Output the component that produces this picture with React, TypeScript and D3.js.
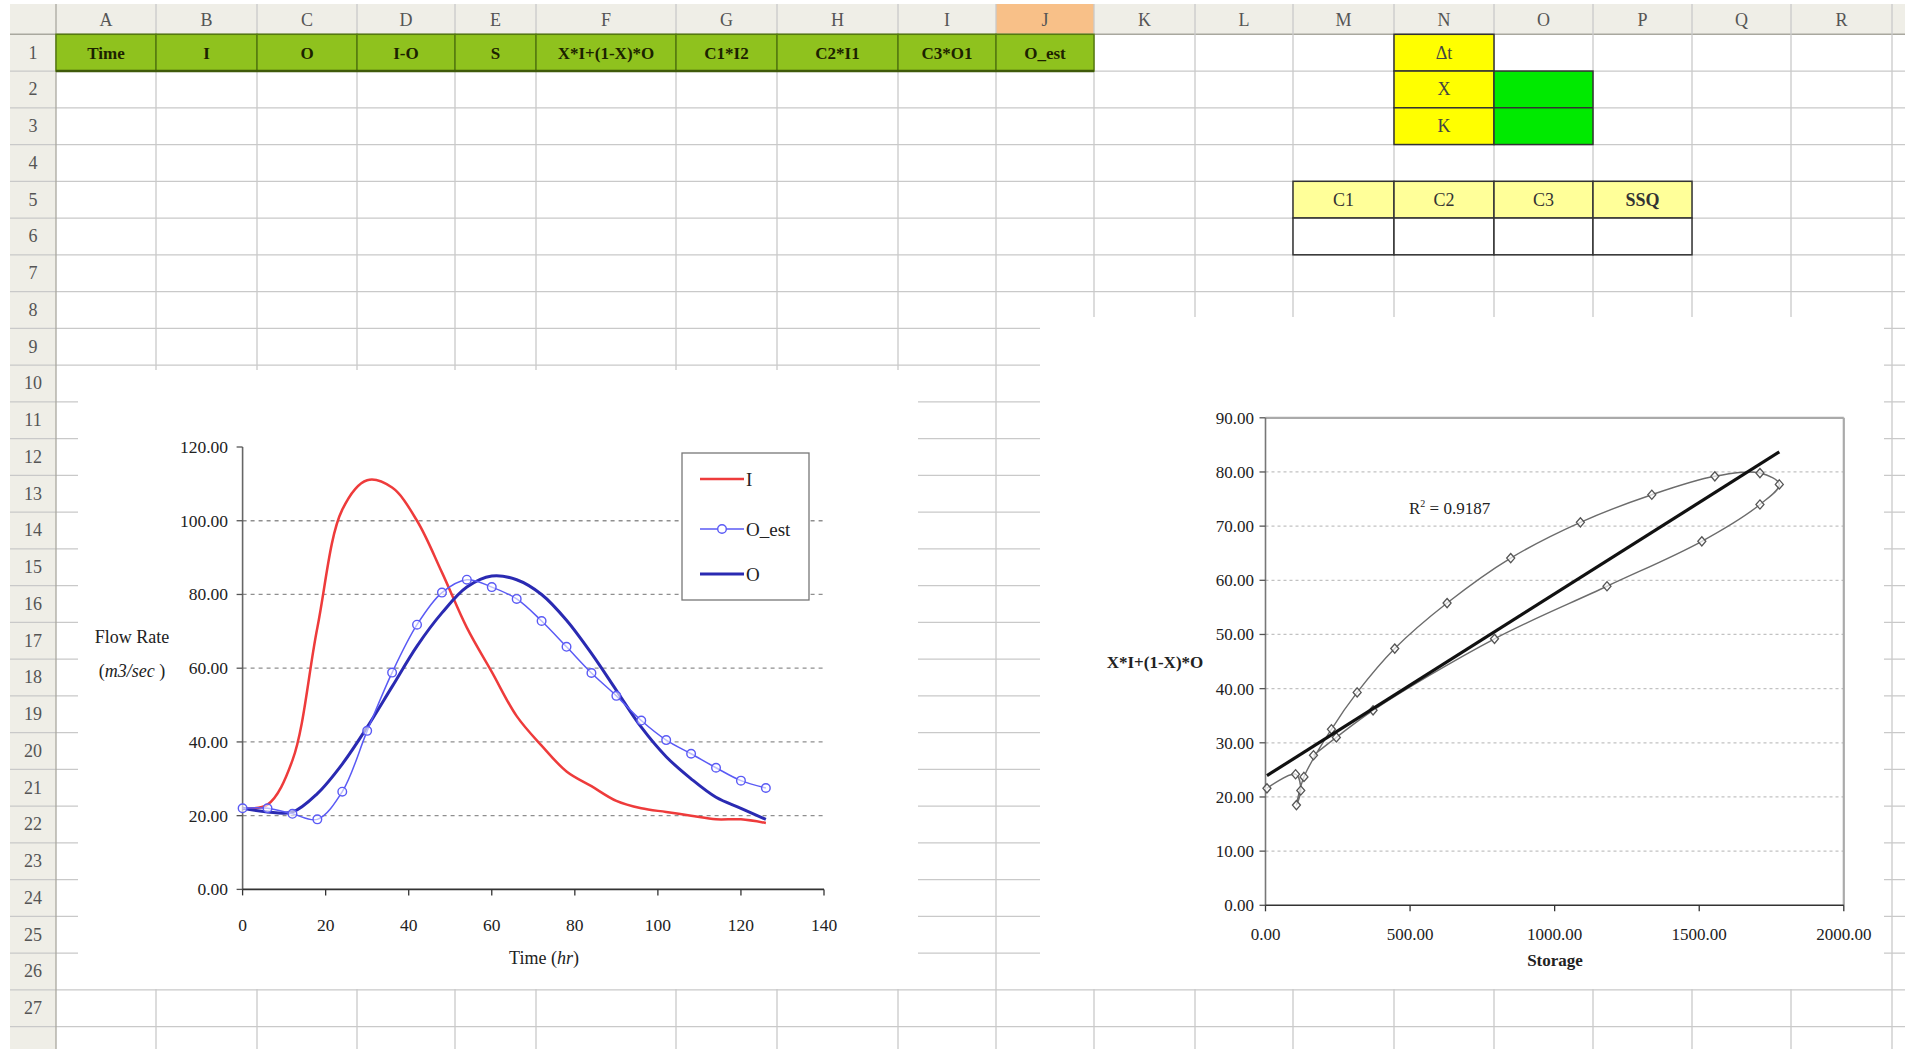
import React from 'react';
import * as d3 from 'd3';

const W = 1921;
const H = 1049;

// sheet layout
const colLetters = ['A', 'B', 'C', 'D', 'E', 'F', 'G', 'H', 'I', 'J', 'K', 'L', 'M', 'N', 'O', 'P', 'Q', 'R'];
const colEdges = [56, 156, 257, 357, 455, 536, 676, 777, 898, 996, 1094, 1195, 1293, 1394, 1494, 1593, 1692, 1791, 1892];
const ROW_TOP = 34.3;
const ROW_H = 36.75;
const N_ROWS = 28;
const N_LABELLED = 27;
const headerCells = ['Time', 'I', 'O', 'I-O', 'S', 'X*I+(1-X)*O', 'C1*I2', 'C2*I1', 'C3*O1', 'O_est'];
const paramCells = ['Δt', 'X', 'K'];
const coefCells = ['C1', 'C2', 'C3', 'SSQ'];

// hydrographs (left chart)
const timeHr = [0, 6, 12, 18, 24, 30, 36, 42, 48, 54, 60, 66, 72, 78, 84, 90, 96, 102, 108, 114, 120, 126];
const inflow = [22, 23, 35, 71, 103, 111, 109, 100, 86, 71, 59, 47, 39, 32, 28, 24, 22, 21, 20, 19, 19, 18];
const outflow = [22, 21, 21, 26, 34, 44, 55, 66, 75, 82, 85, 84, 80, 73, 64, 54, 44, 36, 30, 25, 22, 19];
const outflowEst = [22, 22, 20.5, 19, 26.5, 43, 58.8, 71.8, 80.5, 84, 82, 78.8, 72.8, 65.8, 58.7, 52.5, 45.8, 40.5, 36.8, 33, 29.5, 27.5];
const flowTicksX = [0, 20, 40, 60, 80, 100, 120, 140];
const flowTicksY = [0, 20, 40, 60, 80, 100, 120];

// storage relation (right chart)
const storage = [5, 104, 122, 107, 133, 228, 317, 447, 628, 848, 1089, 1336, 1554, 1710, 1777, 1710, 1509, 1181, 792, 372, 245, 166];
const weightedFlow = [21.6, 24.2, 21.2, 18.5, 23.7, 32.5, 39.3, 47.4, 55.8, 64.1, 70.7, 75.8, 79.2, 79.8, 77.7, 74, 67.2, 58.9, 49.2, 36, 31, 27.7];
const storTicksX = [0, 500, 1000, 1500, 2000];
const storTicksY = [0, 10, 20, 30, 40, 50, 60, 70, 80, 90];
const r2Value = '0.9187';

const f2 = d3.format('.2f');
const FONT = "'Liberation Serif', 'Times New Roman', serif";

function rowY(r: number) {
  // top edge of row r (1-based)
  return ROW_TOP + (r - 1) * ROW_H;
}

function Sheet() {
  const rows = d3.range(1, N_ROWS + 1);
  const gridColor = '#c9c9c9';
  return (
    <g>
      <rect x={0} y={0} width={W} height={H} fill="#fff" />
      {/* header row and row header column */}
      <rect x={10} y={4} width={1895} height={ROW_TOP - 4} fill="#efeee7" />
      <rect x={colEdges[9]} y={4} width={colEdges[10] - colEdges[9]} height={ROW_TOP - 4} fill="#f8c088" />
      <rect x={10} y={ROW_TOP} width={46} height={H - ROW_TOP} fill="#efeee7" />
      {/* grid */}
      {rows.map(r => (
        <line key={'h' + r} x1={10} x2={1905} y1={rowY(r + 1)} y2={rowY(r + 1)} stroke={gridColor} strokeWidth={1.3} />
      ))}
      <line x1={10} x2={1905} y1={ROW_TOP} y2={ROW_TOP} stroke="#a9a89f" strokeWidth={1.5} />
      {colEdges.map((x, i) => (
        <line key={'v' + i} x1={x} x2={x} y1={4} y2={H} stroke={i === 0 ? '#a9a89f' : gridColor} strokeWidth={1.3} />
      ))}
      {colLetters.map((c, i) => (
        <text key={c} x={(colEdges[i] + colEdges[i + 1]) / 2} y={26} textAnchor="middle" fontSize={18} fill="#555">{c}</text>
      ))}
      {rows.filter(r => r <= N_LABELLED).map(r => (
        <text key={'n' + r} x={33} y={rowY(r) + ROW_H / 2 + 6} textAnchor="middle" fontSize={18} fill="#555">{r}</text>
      ))}
      {/* row 1 headers */}
      {headerCells.map((t, i) => (
        <g key={t}>
          <rect x={colEdges[i]} y={rowY(1)} width={colEdges[i + 1] - colEdges[i]} height={ROW_H}
            fill="#8fc21e" stroke="#557a0f" strokeWidth={1.5} />
          <text x={(colEdges[i] + colEdges[i + 1]) / 2} y={rowY(1) + ROW_H / 2 + 6} textAnchor="middle"
            fontSize={17} fontWeight="bold" fill="#1c2200">{t}</text>
        </g>
      ))}
      <line x1={colEdges[0]} x2={colEdges[10]} y1={rowY(2)} y2={rowY(2)} stroke="#3f5a0a" strokeWidth={2.5} />
      {/* parameters */}
      {paramCells.map((t, i) => (
        <g key={t}>
          <rect x={colEdges[13]} y={rowY(i + 1)} width={colEdges[14] - colEdges[13]} height={ROW_H}
            fill="#ffff00" stroke="#333" strokeWidth={1.5} />
          <text x={(colEdges[13] + colEdges[14]) / 2} y={rowY(i + 1) + ROW_H / 2 + 6} textAnchor="middle"
            fontSize={18} fill="#444">{t}</text>
        </g>
      ))}
      <rect x={colEdges[14]} y={rowY(2)} width={colEdges[15] - colEdges[14]} height={ROW_H * 2}
        fill="#00ea00" stroke="#333" strokeWidth={1.5} />
      <line x1={colEdges[14]} x2={colEdges[15]} y1={rowY(3)} y2={rowY(3)} stroke="#333" strokeWidth={1.5} />
      {/* coefficients */}
      {coefCells.map((t, i) => (
        <g key={t}>
          <rect x={colEdges[12 + i]} y={rowY(5)} width={colEdges[13 + i] - colEdges[12 + i]} height={ROW_H}
            fill="#ffff99" stroke="#333" strokeWidth={1.5} />
          <rect x={colEdges[12 + i]} y={rowY(6)} width={colEdges[13 + i] - colEdges[12 + i]} height={ROW_H}
            fill="#fff" stroke="#333" strokeWidth={1.5} />
          <text x={(colEdges[12 + i] + colEdges[13 + i]) / 2} y={rowY(5) + ROW_H / 2 + 6} textAnchor="middle"
            fontSize={18} fontWeight={t === 'SSQ' ? 'bold' : 'normal'} fill="#333">{t}</text>
        </g>
      ))}
    </g>
  );
}

function FlowChart() {
  const x = d3.scaleLinear().domain([0, 140]).range([242.6, 824]);
  const y = d3.scaleLinear().domain([0, 120]).range([889.4, 447]);
  const line = (vals: number[]) =>
    d3.line<number>().x((_, i) => x(timeHr[i])).y(v => y(v)).curve(d3.curveCatmullRom.alpha(0.5))(vals) || '';
  const legend = [
    { name: 'I', color: '#ee3b3b', w: 2.5, marker: false },
    { name: 'O_est', color: '#5a5af5', w: 1.5, marker: true },
    { name: 'O', color: '#2a2ab2', w: 3, marker: false },
  ];
  const legendY = [479, 529, 574];
  return (
    <g>
      <rect x={78} y={370} width={840} height={619} fill="#fff" />
      {flowTicksY.filter(v => v > 0 && v < 120).map(v => (
        <line key={v} x1={x(0)} x2={x(140)} y1={y(v)} y2={y(v)} stroke="#8f8f8f" strokeWidth={1.3} strokeDasharray="4,4" />
      ))}
      <line x1={x(0)} x2={x(0)} y1={y(0)} y2={y(120)} stroke="#666" strokeWidth={1.6} />
      <line x1={x(0)} x2={x(140)} y1={y(0)} y2={y(0)} stroke="#333" strokeWidth={1.6} />
      {flowTicksY.map(v => (
        <g key={v}>
          <line x1={x(0) - 6} x2={x(0)} y1={y(v)} y2={y(v)} stroke="#555" strokeWidth={1.3} />
          <text x={228} y={y(v) + 6} textAnchor="end" fontSize={17.5} fill="#222">{f2(v)}</text>
        </g>
      ))}
      {flowTicksX.map(v => (
        <g key={v}>
          <line x1={x(v)} x2={x(v)} y1={y(0)} y2={y(0) + 6} stroke="#333" strokeWidth={1.3} />
          <text x={x(v)} y={931} textAnchor="middle" fontSize={17.5} fill="#222">{v}</text>
        </g>
      ))}
      <text x={544} y={964} textAnchor="middle" fontSize={18} fill="#222">
        Time (<tspan fontStyle="italic">hr</tspan>)
      </text>
      <text x={132} y={643} textAnchor="middle" fontSize={18} fill="#222">Flow Rate</text>
      <text x={132} y={677} textAnchor="middle" fontSize={18} fill="#222">
        (<tspan fontStyle="italic">m3/sec</tspan> )
      </text>
      <path d={line(inflow)} fill="none" stroke={legend[0].color} strokeWidth={legend[0].w} />
      <path d={line(outflow)} fill="none" stroke={legend[2].color} strokeWidth={legend[2].w} />
      <path d={line(outflowEst)} fill="none" stroke={legend[1].color} strokeWidth={legend[1].w} />
      {outflowEst.map((v, i) => (
        <circle key={i} cx={x(timeHr[i])} cy={y(v)} r={4.3} fill="#fff" fillOpacity={0.6} stroke={legend[1].color} strokeWidth={1.4} />
      ))}
      <rect x={682} y={453} width={127} height={147} fill="#fff" stroke="#777" strokeWidth={1.3} />
      {legend.map((s, i) => (
        <g key={s.name}>
          <line x1={700} x2={744} y1={legendY[i]} y2={legendY[i]} stroke={s.color} strokeWidth={s.w} />
          {s.marker && <circle cx={722} cy={legendY[i]} r={4.3} fill="#fff" stroke={s.color} strokeWidth={1.4} />}
          <text x={746} y={legendY[i] + 7} fontSize={19} fill="#222">{s.name}</text>
        </g>
      ))}
    </g>
  );
}

function StorageChart() {
  const x = d3.scaleLinear().domain([0, 2000]).range([1265.5, 1843.8]);
  const y = d3.scaleLinear().domain([0, 90]).range([905.3, 417.8]);
  const pts = storage.map((s, i) => [s, weightedFlow[i]] as [number, number]);
  const path = d3.line<[number, number]>().x(d => x(d[0])).y(d => y(d[1])).curve(d3.curveCatmullRom.alpha(0.5))(pts) || '';

  // linear least-squares trendline
  const mx = d3.mean(storage) as number;
  const my = d3.mean(weightedFlow) as number;
  const slope = d3.sum(storage, (s, i) => (s - mx) * (weightedFlow[i] - my)) / d3.sum(storage, s => (s - mx) ** 2);
  const icpt = my - slope * mx;
  const [x0, x1] = d3.extent(storage) as [number, number];

  const diamond = (cx: number, cy: number) => `M${cx},${cy - 4.6}L${cx + 4},${cy}L${cx},${cy + 4.6}L${cx - 4},${cy}Z`;

  return (
    <g>
      <rect x={1040} y={317} width={844} height={672} fill="#fff" />
      {storTicksY.filter(v => v > 0 && v < 90).map(v => (
        <line key={v} x1={x(0)} x2={x(2000)} y1={y(v)} y2={y(v)} stroke="#c2c2c2" strokeWidth={1.3} strokeDasharray="3,3" />
      ))}
      <line x1={x(0)} x2={x(2000)} y1={y(90)} y2={y(90)} stroke="#aaa" strokeWidth={2.2} />
      <line x1={x(2000)} x2={x(2000)} y1={y(90)} y2={y(0)} stroke="#aaa" strokeWidth={2.2} />
      <line x1={x(0)} x2={x(0)} y1={y(0)} y2={y(90)} stroke="#777" strokeWidth={1.6} />
      <line x1={x(0)} x2={x(2000)} y1={y(0)} y2={y(0)} stroke="#333" strokeWidth={1.6} />
      {storTicksY.map(v => (
        <g key={v}>
          <line x1={x(0) - 6} x2={x(0)} y1={y(v)} y2={y(v)} stroke="#555" strokeWidth={1.3} />
          <text x={1254} y={y(v) + 6} textAnchor="end" fontSize={17} fill="#222">{f2(v)}</text>
        </g>
      ))}
      {storTicksX.map(v => (
        <g key={v}>
          <line x1={x(v)} x2={x(v)} y1={y(0)} y2={y(0) + 6} stroke="#333" strokeWidth={1.3} />
          <text x={x(v)} y={940} textAnchor="middle" fontSize={17} fill="#222">{f2(v)}</text>
        </g>
      ))}
      <text x={1555} y={966} textAnchor="middle" fontSize={17} fontWeight="bold" fill="#222">Storage</text>
      <text x={1155} y={668} textAnchor="middle" fontSize={17} fontWeight="bold" fill="#222">X*I+(1-X)*O</text>
      <path d={path} fill="none" stroke="#6c6c6c" strokeWidth={1.4} />
      {pts.map((d, i) => (
        <path key={i} d={diamond(x(d[0]), y(d[1]))} fill="#fff" fillOpacity={0.7} stroke="#555" strokeWidth={1.3} />
      ))}
      <line x1={x(x0)} x2={x(x1)} y1={y(icpt + slope * x0)} y2={y(icpt + slope * x1)} stroke="#111" strokeWidth={3.2} />
      <text x={1409} y={514} fontSize={17} fill="#222">
        R<tspan dy={-7} fontSize={10}>2</tspan><tspan dy={7}> = {r2Value}</tspan>
      </text>
    </g>
  );
}

export default function App() {
  return (
    <svg width={W} height={H} fontFamily={FONT}
      style={{ position: 'absolute', left: 0, top: 0, background: '#fff' }}>
      <Sheet />
      <FlowChart />
      <StorageChart />
    </svg>
  );
}
